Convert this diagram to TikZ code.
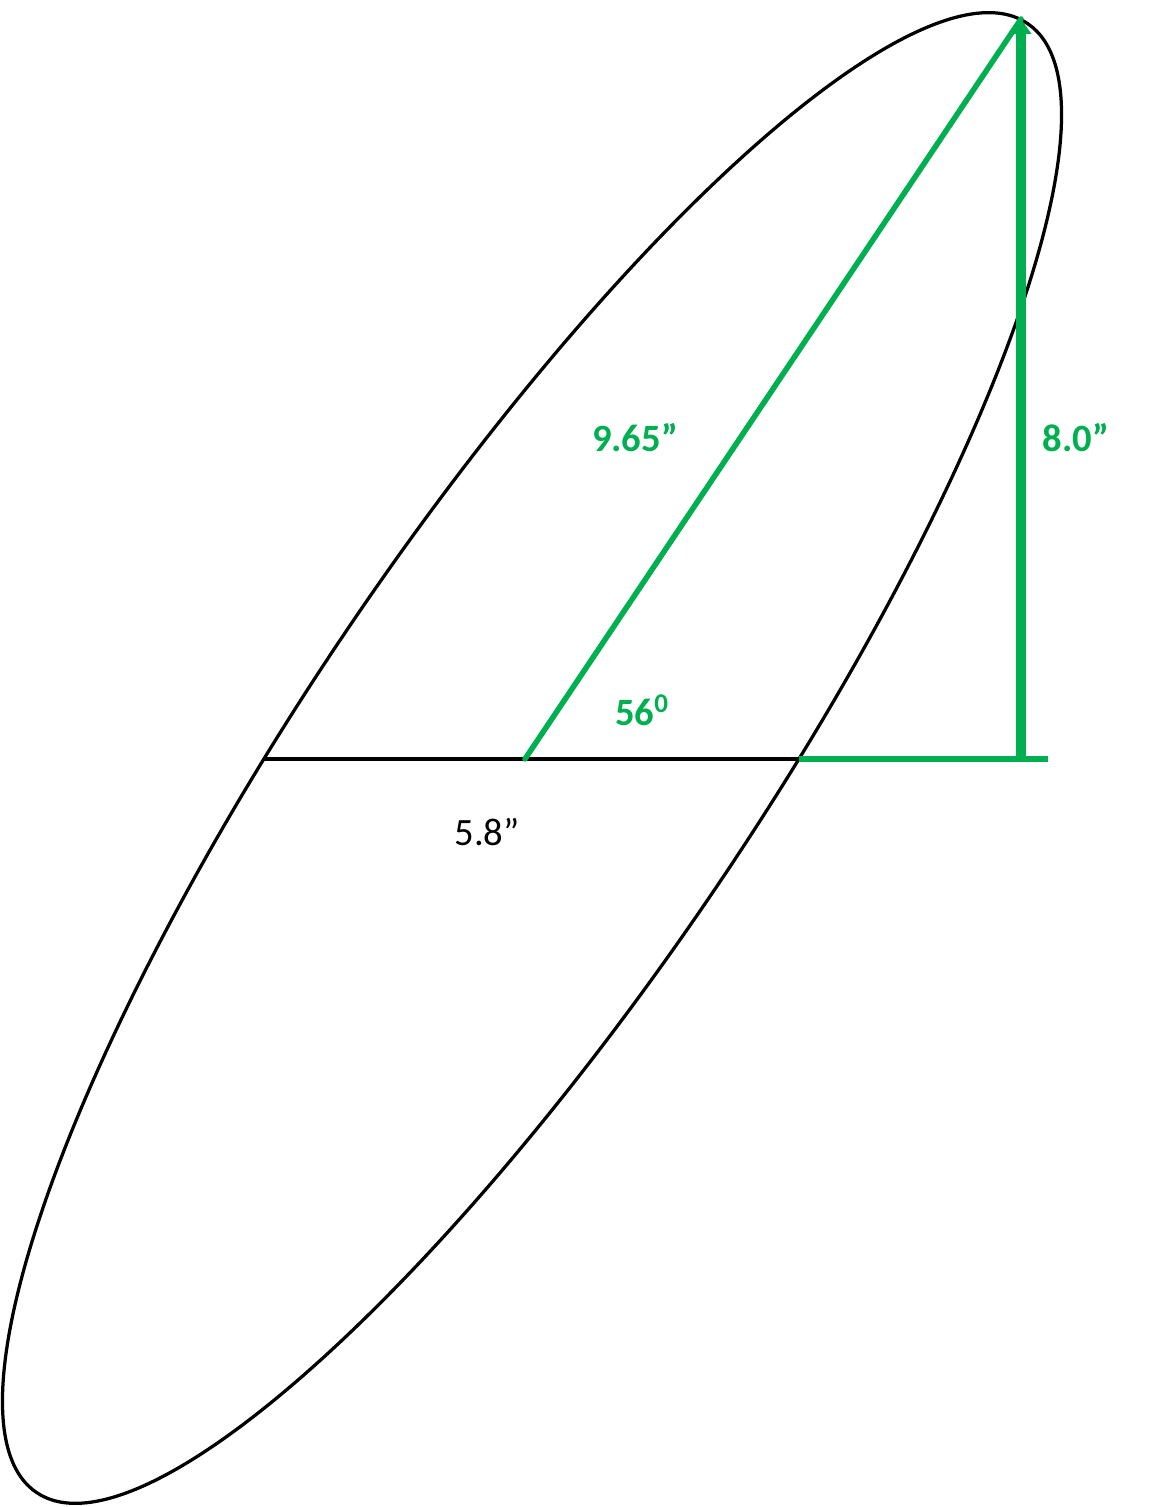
\documentclass[tikz,border=0pt]{standalone}
\usepackage{fontspec}
\setmainfont{Carlito}
\usetikzlibrary{arrows.meta}
\definecolor{ogreen}{HTML}{00B050}
\begin{document}
\begin{tikzpicture}[x=0.02cm,y=0.02cm,
  outline/.style={draw=black, line width=0.065cm},
  chordline/.style={draw=black, line width=0.08cm},
  gline/.style={draw=ogreen, line width=0.11cm},
  gthick/.style={draw=ogreen, line width=0.2cm, -{Triangle[width=0.4cm,length=0.3cm]}},
  glabel/.style={text=ogreen, font=\fontsize{22}{26}\selectfont\bfseries, anchor=base, inner sep=0pt},
  blabel/.style={text=black, font=\fontsize{22}{26}\selectfont, anchor=base, inner sep=0pt}]
\useasboundingbox (0,0) rectangle (1174,1507);
% ellipse
\coordinate (C) at (532,749);
\draw[outline, rotate around={56:(C)}] (C) ellipse [x radius=886, y radius=225];
% key points
\coordinate (L) at (264,748);
\coordinate (D) at (525,748);
\coordinate (R) at (799,748);
\coordinate (F) at (1021,748);
\coordinate (E) at (1048,748);
\coordinate (T) at (1021,1488);
% chord
\draw[chordline] (L) -- (R);
% green lines
\draw[gline] (R) -- (E);
\draw[gline, line cap=round] (D) -- (T);
\draw[gthick] (F) -- (T);
% labels
\node[glabel] (l965) at (635,1055) {9.65”};
\node[glabel] (l80) at (1076,1055) {8.0”};
\node[glabel] (l56) at (642,781) {56\textsuperscript{0}};
\node[blabel] (l58) at (487,661) {5.8”};
\end{tikzpicture}
\end{document}
